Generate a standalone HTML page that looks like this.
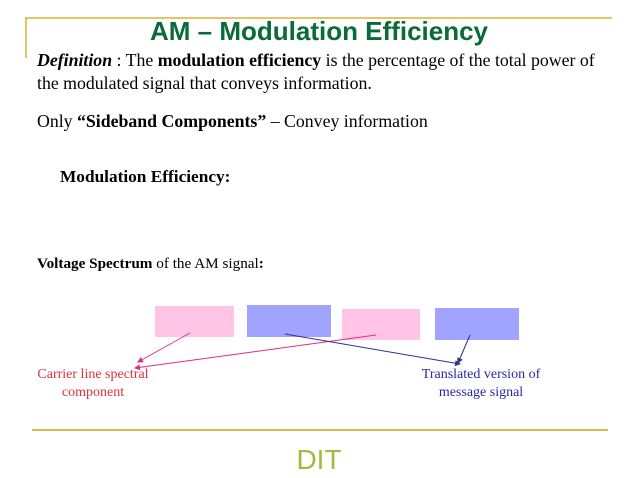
<!DOCTYPE html>
<html><head><meta charset="utf-8"><style>
body{margin:0;width:638px;height:478px;background:#fff;position:relative;overflow:hidden;font-family:"Liberation Serif",serif;}
.t{position:absolute;white-space:nowrap;}
</style></head><body>
<svg width="638" height="478" style="position:absolute;left:0;top:0">
<line x1="25" y1="18" x2="612" y2="18" stroke="#e0b030" stroke-width="1.5"/>
<line x1="26" y1="18" x2="26" y2="58" stroke="#e0b030" stroke-width="1.5"/>
<line x1="32" y1="430" x2="608" y2="430" stroke="#d4a020" stroke-width="1.5"/>
<rect x="155" y="306" width="79" height="31" fill="#ffc4e6"/>
<rect x="247" y="305" width="84" height="32" fill="#a0a4ff"/>
<rect x="342" y="309" width="78" height="31" fill="#ffc4e6"/>
<rect x="435" y="308" width="84" height="32" fill="#a0a4ff"/>
<defs>
<marker id="pa" markerWidth="6" markerHeight="6" refX="5" refY="3" orient="auto"><path d="M0,0 L6,3 L0,6z" fill="#e0307a"/></marker>
<marker id="ba" markerWidth="6" markerHeight="6" refX="5" refY="3" orient="auto"><path d="M0,0 L6,3 L0,6z" fill="#30308a"/></marker>
</defs>
<line x1="190" y1="333" x2="138" y2="362" stroke="#e0307a" marker-end="url(#pa)"/>
<line x1="376" y1="335" x2="135" y2="368" stroke="#e0307a" marker-end="url(#pa)"/>
<line x1="285" y1="334" x2="460" y2="364" stroke="#30308a" marker-end="url(#ba)"/>
<line x1="470" y1="335" x2="458" y2="363" stroke="#30308a" marker-end="url(#ba)"/>
</svg>
<div class="t" style="left:0;width:638px;text-align:center;top:16px;font-family:'Liberation Sans',sans-serif;font-weight:bold;font-size:26px;color:#0a6a38">AM – Modulation Efficiency</div>
<div class="t" style="left:37px;top:49px;font-size:17.8px;line-height:23px;color:#000"><b><i>Definition</i></b> : The <b>modulation efficiency</b> is the percentage of the total power of<br>the modulated signal that conveys information.</div>
<div class="t" style="left:37px;top:111px;font-size:17.8px;color:#000">Only <b>“Sideband Components”</b> – Convey information</div>
<div class="t" style="left:60px;top:167px;font-size:17.3px;font-weight:bold;color:#000">Modulation Efficiency:</div>
<div class="t" style="left:37px;top:255px;font-size:15.2px;color:#000"><b>Voltage Spectrum</b> of the AM signal<b>:</b></div>
<div class="t" style="left:36px;top:366px;width:114px;text-align:center;font-size:14px;line-height:18px;color:#e03040">Carrier line spectral<br>component</div>
<div class="t" style="left:416px;top:366px;width:130px;text-align:center;font-size:14px;line-height:18px;color:#2828a8">Translated version of<br>message signal</div>
<div class="t" style="left:0;width:638px;text-align:center;top:444px;font-family:'Liberation Sans',sans-serif;font-size:28px;color:#a0bc3c">DIT</div>
</body></html>
